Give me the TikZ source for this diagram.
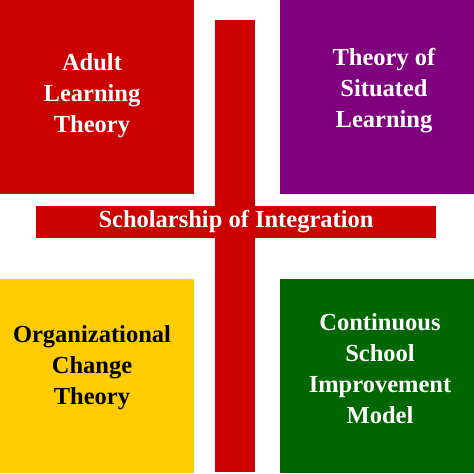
\documentclass[tikz,border=0pt]{standalone}
\usepackage{fontspec}
\setmainfont{Liberation Serif}
\usepackage{xcolor}

\definecolor{adultred}{RGB}{204,0,0}
\definecolor{situpurple}{RGB}{128,0,128}
\definecolor{orgyellow}{RGB}{255,204,0}
\definecolor{schoolgreen}{RGB}{0,102,0}

\tikzset{
  panel/.style={minimum width=194pt, minimum height=194pt, inner sep=0pt, draw=none},
  paneltext/.style={font=\bfseries\fontsize{24.5}{31}\selectfont, align=center, inner sep=0pt},
}

\begin{document}
\begin{tikzpicture}[x=1pt, y=-1pt]
    \useasboundingbox (0,0) rectangle (474,474);

    % Four panels
    \node[panel, fill=adultred] (adult) at (97,97) {};
    \node[panel, fill=situpurple] (situated) at (377,97) {};
    \node[panel, fill=orgyellow] (organizational) at (97,376) {};
    \node[panel, fill=schoolgreen] (school) at (377,376) {};

    % Panel texts
    \node[paneltext, text=white] (adulttext) at (92,95.4) {Adult\\Learning\\Theory};
    \node[paneltext, text=white] (situatedtext) at (384,90.9) {Theory of\\Situated\\Learning};
    \node[paneltext, text=black] (organizationaltext) at (92,367.9) {Organizational\\Change\\Theory};
    \node[paneltext, text=white] (schooltext) at (380,368.8) {Continuous\\School\\Improvement\\Model};

    % Cross
    \node[fill=adultred, minimum width=40pt, minimum height=452pt, inner sep=0pt] (upright) at (235,246) {};
    \node[fill=adultred, minimum width=400pt, minimum height=32pt, inner sep=0pt,
          text=white, font=\bfseries\fontsize{24.5}{31}\selectfont] (integration) at (236,222) {Scholarship of Integration};
\end{tikzpicture}
\end{document}
